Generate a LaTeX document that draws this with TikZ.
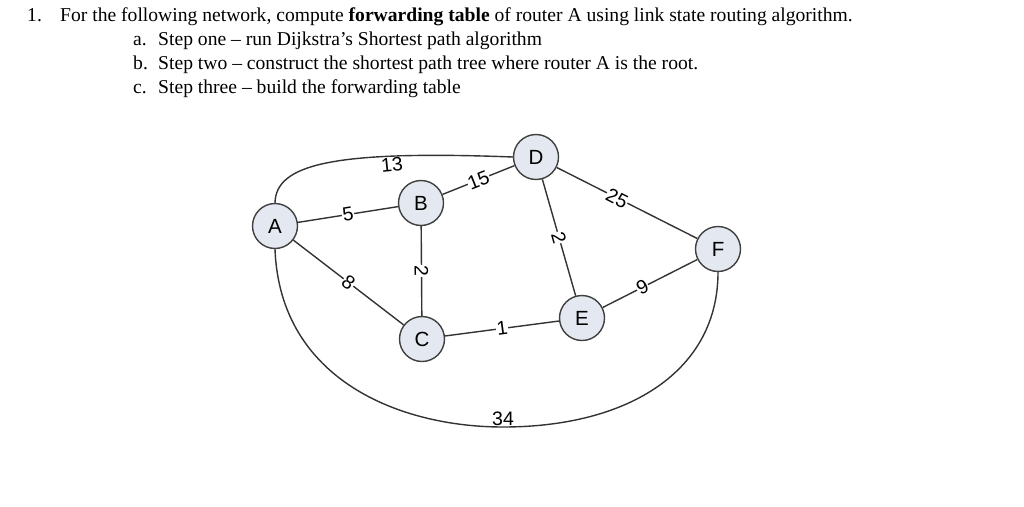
\documentclass[tikz,border=0pt]{standalone}
\usepackage{fontspec}
\setmainfont{Liberation Serif}
\newfontfamily\nodefont{Liberation Sans}
\definecolor{nodefill}{HTML}{E4E8F0}
\begin{document}
\begin{tikzpicture}[x=1pt,y=-1pt,
  router/.style={circle,draw=black!75,fill=nodefill,line width=1.4pt,minimum size=45pt,inner sep=0pt,font=\nodefont\fontsize{20.5}{20.5}\selectfont},
  link/.style={draw=black!80,line width=1.4pt},
  wlabel/.style={fill=white,inner sep=0.5pt,font=\nodefont\fontsize{19.5}{19.5}\selectfont},
  para/.style={anchor=base west,inner sep=0pt,font=\fontsize{19.6}{19.6}\selectfont}]
\useasboundingbox (0,0) rectangle (1024,506);
% text
\node[para] (n1) at (27,21) {1.};
\node[para] (t1) at (60,21) {For the following network, compute \textbf{forwarding table} of router A using link state routing algorithm.};
\node[para] (n2) at (133,45) {a.};
\node[para] (t2) at (158,45) {Step one -- run Dijkstra's Shortest path algorithm};
\node[para] (n3) at (133,69) {b.};
\node[para] (t3) at (158,69) {Step two -- construct the shortest path tree where router A is the root.};
\node[para] (n4) at (133,93) {c.};
\node[para] (t4) at (158,93) {Step three -- build the forwarding table};
% routers
\node[router] (A) at (275,226) {A};
\node[router] (B) at (421,203) {B};
\node[router] (D) at (536,157) {D};
\node[router] (F) at (718,249) {F};
\node[router] (E) at (582,318) {E};
\node[router] (C) at (422,339) {C};
% links
\draw[link] (A.north) .. controls (276,165) and (330,150) .. (D.west);
\node[wlabel,rotate=6] (l13) at (392,165) {13};
\draw[link] (A) -- node[wlabel,sloped,pos=0.5] (l5) {5} (B);
\draw[link] (A) -- node[wlabel,sloped,pos=0.5] (l8) {8} (C);
\draw[link] (B) -- node[wlabel,sloped,pos=0.5] (l2a) {2} (C);
\draw[link] (B) -- node[wlabel,sloped,pos=0.5] (l15) {15} (D);
\draw[link] (D) -- node[wlabel,sloped,pos=0.5] (l2b) {2} (E);
\draw[link] (D) -- node[wlabel,sloped,pos=0.43] (l25) {25} (F);
\draw[link] (E) -- node[wlabel,sloped,pos=0.42] (l9) {9} (F);
\draw[link] (C) -- node[wlabel,sloped,pos=0.5] (l1) {1} (E);
\draw[link] (A.south) .. controls (280,380) and (400,427) .. (503,427) coordinate (bot) .. controls (630,427) and (718,370) .. (F.south);
\node[anchor=south,inner sep=1pt,font=\nodefont\fontsize{19.5}{19.5}\selectfont] (l34) at (bot) {34};
\end{tikzpicture}
\end{document}
